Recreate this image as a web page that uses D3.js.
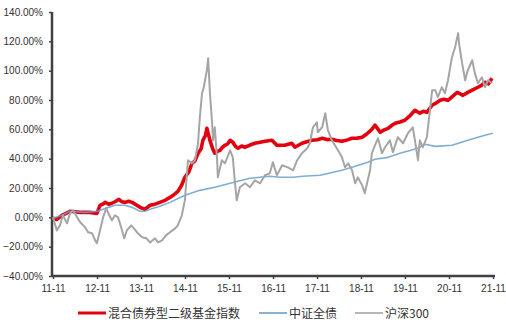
<!DOCTYPE html>
<html lang="zh">
<head>
    <meta charset="UTF-8">
    <title>混合债券型二级基金指数</title>
    <script src="https://d3js.org/d3.v7.min.js"></script>
    <style>
        body { margin: 0; background: #fff; }
        svg { display: block; }
        .axis text { font-family: Arial, "Liberation Sans", sans-serif; font-size: 10px; fill: #333; }
        .legend text { font-family: "Noto Sans CJK SC", sans-serif; font-size: 12px; fill: #333; }
    </style>
</head>
<body>
    <svg width="506" height="324"></svg>

    <script>
        // [decimal year, cumulative return %]
        const hybridBond = [
            [2011.83, -0.7], [2011.92, -1.4], [2012.04, 1.4], [2012.22, 4.1], [2012.45, 3.4],
            [2012.67, 3.4], [2012.83, 2.7], [2012.90, 8.2], [2012.96, 9.0], [2013.02, 10.2], [2013.10, 8.9], [2013.17, 9.6],
            [2013.25, 10.8], [2013.33, 12.3], [2013.40, 10.6], [2013.47, 10.2], [2013.55, 11.0], [2013.63, 10.2], [2013.72, 8.6], [2013.81, 6.8], [2013.92, 5.5],
            [2014.04, 8.2], [2014.15, 9.0], [2014.26, 10.2], [2014.38, 11.6], [2014.49, 13.6], [2014.58, 15.4], [2014.67, 17.7], [2014.75, 21.5], [2014.83, 27.3],
            [2014.92, 31.0], [2014.99, 36.8], [2015.06, 38.5], [2015.13, 43.7], [2015.20, 46.8], [2015.24, 52.5], [2015.30, 56.0], [2015.33, 60.7], [2015.40, 52.5],
            [2015.46, 47.0], [2015.51, 43.7], [2015.57, 44.9], [2015.63, 45.7], [2015.69, 48.0], [2015.74, 49.1], [2015.80, 50.0], [2015.86, 52.5], [2015.92, 51.2],
            [2015.98, 48.4], [2016.04, 47.1], [2016.12, 48.6], [2016.20, 47.8], [2016.31, 49.3], [2016.42, 50.5], [2016.54, 51.2], [2016.65, 51.9], [2016.81, 52.5],
            [2016.92, 49.1], [2017.10, 49.1], [2017.26, 50.5], [2017.33, 47.8], [2017.49, 50.5],
            [2017.60, 51.5], [2017.72, 52.5], [2017.84, 52.9], [2017.95, 53.9], [2018.06, 53.0], [2018.17, 53.2], [2018.28, 52.4], [2018.40, 51.9], [2018.52, 52.8], [2018.63, 53.9],
            [2018.75, 54.0], [2018.86, 54.6], [2018.97, 57.0], [2019.08, 60.0], [2019.15, 62.8], [2019.21, 60.5], [2019.27, 58.0], [2019.36, 59.6], [2019.45, 60.7],
            [2019.53, 62.6], [2019.61, 64.1], [2019.72, 65.0], [2019.83, 66.2], [2019.95, 69.4], [2020.06, 73.0], [2020.17, 71.0], [2020.25, 72.3], [2020.33, 71.6],
            [2020.45, 76.4], [2020.54, 78.0], [2020.63, 79.8], [2020.72, 80.5], [2020.81, 79.8], [2020.92, 82.6], [2021.02, 85.3], [2021.15, 83.2],
            [2021.26, 85.2], [2021.36, 86.7], [2021.49, 88.7], [2021.57, 90.0], [2021.65, 92.1], [2021.73, 91.0], [2021.81, 94.8]
        ];

        const chinaBond = [
            [2011.83, -0.7], [2012.04, 1.4], [2012.22, 4.1], [2012.56, 3.4], [2012.83, 4.1],
            [2013.02, 6.1], [2013.24, 8.2], [2013.47, 8.2], [2013.63, 6.8], [2013.81, 4.1],
            [2013.92, 4.1], [2014.04, 5.5], [2014.26, 7.5], [2014.49, 10.2], [2014.83, 15.0],
            [2015.17, 18.4], [2015.51, 20.5], [2015.86, 23.2], [2016.31, 26.6], [2016.76, 28.0],
            [2016.99, 27.3], [2017.29, 27.3], [2017.51, 28.0], [2017.90, 28.7], [2018.20, 30.7],
            [2018.40, 32.1], [2018.70, 34.8], [2018.99, 37.5], [2019.15, 39.6], [2019.45, 40.9],
            [2019.72, 43.7], [2020.13, 47.1], [2020.29, 49.8], [2020.52, 48.4], [2020.90, 49.1],
            [2021.26, 52.5], [2021.65, 56.0], [2021.83, 57.3]
        ];

        const hs300 = [
            [2011.83, 0], [2011.92, -8.9], [2011.99, -5.5], [2012.06, 1.4], [2012.15, -4.1],
            [2012.22, 2.7], [2012.29, 4.8], [2012.38, 0], [2012.45, -3.4], [2012.56, -6.8],
            [2012.63, -10.2], [2012.72, -10.9], [2012.79, -15.7], [2012.83, -17.7], [2012.90, -8.9],
            [2012.97, 0], [2013.04, 6.1], [2013.11, 1.4], [2013.17, -2.0], [2013.24, 1.4],
            [2013.31, 0], [2013.38, -6.8], [2013.45, -14.3], [2013.51, -8.9], [2013.61, -5.5],
            [2013.67, -7.5], [2013.76, -10.9], [2013.86, -13.6], [2013.95, -14.3], [2014.04, -17.1],
            [2014.15, -14.3], [2014.22, -17.1], [2014.31, -15.7], [2014.40, -12.3], [2014.49, -10.2],
            [2014.61, -7.5], [2014.67, -5.5], [2014.76, 1.4], [2014.83, 11.6], [2014.90, 38.9],
            [2014.99, 36.8], [2015.06, 38.9], [2015.13, 50.5], [2015.17, 68.2], [2015.22, 84.6],
            [2015.26, 88.7], [2015.33, 100.3], [2015.36, 108.5], [2015.40, 84.6], [2015.45, 64.1],
            [2015.47, 52.5], [2015.51, 61.4], [2015.56, 40.9], [2015.58, 27.3], [2015.67, 38.9],
            [2015.74, 36.8], [2015.86, 45.7], [2015.92, 40.9], [2015.97, 23.2], [2016.01, 11.6],
            [2016.08, 20.5], [2016.20, 23.2], [2016.31, 20.5], [2016.42, 25.2], [2016.54, 23.2],
            [2016.65, 28.7], [2016.76, 30.0], [2016.83, 37.5], [2016.92, 28.7], [2017.04, 35.5],
            [2017.17, 34.1], [2017.29, 32.1], [2017.38, 38.9], [2017.49, 43.7], [2017.61, 47.1],
            [2017.67, 50.5], [2017.74, 61.4], [2017.83, 64.8], [2017.85, 58.0], [2017.95, 61.4],
            [2018.02, 71.0], [2018.08, 59.4], [2018.17, 52.5], [2018.24, 49.1], [2018.31, 45.7],
            [2018.40, 40.9], [2018.47, 34.1], [2018.54, 36.8], [2018.63, 32.1], [2018.70, 23.2],
            [2018.76, 27.3], [2018.86, 21.8], [2018.92, 16.4], [2018.97, 23.2], [2019.04, 32.1],
            [2019.08, 43.7], [2019.15, 49.1], [2019.22, 53.9], [2019.31, 43.7], [2019.38, 47.8],
            [2019.49, 52.5], [2019.56, 44.4], [2019.67, 54.6], [2019.79, 50.5], [2019.90, 57.3],
            [2020.01, 61.4], [2020.06, 52.5], [2020.13, 38.9], [2020.17, 52.5], [2020.24, 47.8],
            [2020.33, 54.6], [2020.40, 73.0], [2020.45, 86.7], [2020.52, 86.7], [2020.58, 81.9],
            [2020.67, 88.7], [2020.74, 84.6], [2020.81, 93.5], [2020.90, 109.2], [2020.97, 116.0],
            [2021.04, 125.6], [2021.06, 118.7], [2021.13, 105.1], [2021.20, 93.5], [2021.26, 100.3],
            [2021.36, 107.1], [2021.42, 98.3], [2021.49, 91.4], [2021.58, 95.5], [2021.65, 88.7],
            [2021.72, 93.5], [2021.81, 91.4]
        ];

        const yTicks = [-40, -20, 0, 20, 40, 60, 80, 100, 120, 140];
        const tickYears = d3.range(2011, 2022);

        const seriesNames = ["混合债券型二级基金指数", "中证全债", "沪深300"];
        const seriesColors = ["#e3000f", "#6a9fcb", "#a5a5a5"];
        const seriesWidths = [3.6, 1.6, 2];

        const toDate = t => {
            const y = Math.floor(t);
            const start = new Date(y, 0, 1), end = new Date(y + 1, 0, 1);
            return new Date(+start + (t - y) * (end - start));
        };

        const svg = d3.select("svg");

        const x = d3.scaleTime()
            .domain([new Date(2011, 10, 1), new Date(2021, 10, 1)])
            .range([53, 493]);
        const y = d3.scaleLinear().domain([-40, 140]).range([276, 12]);

        const line = d3.line()
            .x(d => x(toDate(d[0])))
            .y(d => y(d[1]));

        // axes
        const yAxis = svg.append("g")
            .attr("class", "axis")
            .attr("transform", "translate(52,0)")
            .call(d3.axisLeft(y).tickValues(yTicks).tickSize(3).tickPadding(6)
                .tickFormat(d => d3.format(".2f")(d) + "%"));

        const xAxis = svg.append("g")
            .attr("class", "axis")
            .attr("transform", "translate(0,276)")
            .call(d3.axisBottom(x).tickValues(tickYears.map(yr => new Date(yr, 10, 1)))
                .tickSize(3).tickPadding(6)
                .tickFormat(d3.timeFormat("%y-%m")));

        svg.selectAll(".axis .domain").attr("stroke", "#404040").attr("stroke-width", 2.5);
        svg.selectAll(".axis .tick line").attr("stroke", "#404040").attr("stroke-width", 1.5);
        yAxis.select(".domain").attr("d", `M0,${y(140)}V${y(-40)}`);
        xAxis.select(".domain").attr("d", "M52,0H495");

        // lines
        [hybridBond, chinaBond, hs300].forEach((data, i) => {
            svg.append("path")
                .datum(data)
                .attr("fill", "none")
                .attr("stroke", seriesColors[i])
                .attr("stroke-width", seriesWidths[i])
                .attr("stroke-opacity", i === 1 ? 0.85 : 1)
                .attr("stroke-linejoin", "round")
                .attr("d", line);
        });

        // legend
        const legendX = [78, 259, 355];
        const legend = svg.append("g").attr("class", "legend");
        seriesNames.forEach((name, i) => {
            legend.append("line")
                .attr("x1", legendX[i]).attr("x2", legendX[i] + 28)
                .attr("y1", 313).attr("y2", 313)
                .attr("stroke", seriesColors[i])
                .attr("stroke-width", i === 0 ? 3 : 1.6);
            legend.append("text")
                .attr("x", legendX[i] + 30)
                .attr("y", 317.5)
                .text(name);
        });
    </script>
</body>
</html>
